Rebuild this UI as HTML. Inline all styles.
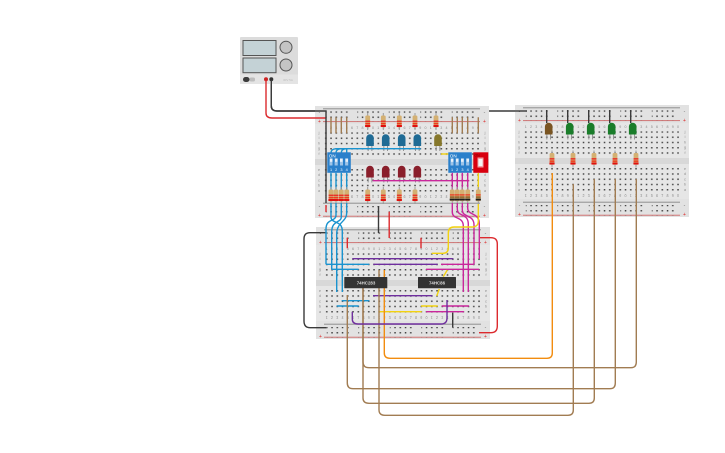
<!DOCTYPE html>
<html><head><meta charset="utf-8"><style>
html,body{margin:0;padding:0;background:#fff}
svg{display:block}
text{font-family:"Liberation Sans",sans-serif}
.w{fill:none;stroke-width:1.4;stroke-linecap:butt}
.bl{stroke:#1a93cf}.mg{stroke:#c9279b}.pu{stroke:#6f2f9e}.ye{stroke:#f2d211}.br{stroke:#a17c52}.or{stroke:#f28c0f}.rd{stroke:#dc2a2e}.bk{stroke:#3a3a3a}
</style></head><body>
<svg width="725" height="453" viewBox="0 0 725 453" xmlns="http://www.w3.org/2000/svg">
<defs>
<pattern id="h" patternUnits="userSpaceOnUse" x="10.8" y="0" width="5.25" height="5.25"><rect x="-.75" y=".0" width="1.5" height="1.5" fill="#444"/><rect x="4.5" y=".0" width="1.5" height="1.5" fill="#444"/></pattern>
<pattern id="hr" patternUnits="userSpaceOnUse" x="10.8" y="0" width="31.5" height="5.25"><g fill="#444"><rect x="-.75" y=".0" width="1.5" height="1.5"/><rect x="4.5" y=".0" width="1.5" height="1.5"/><rect x="9.75" y=".0" width="1.5" height="1.5"/><rect x="15" y=".0" width="1.5" height="1.5"/><rect x="20.25" y=".0" width="1.5" height="1.5"/></g></pattern>
<g id="board">
<rect width="174" height="112" fill="#e2e2e2"/>
<rect y="18" width="174" height="76" fill="#e6e6e6"/>
<rect y="53" width="174" height="6" fill="#d8d8d8"/>
<rect x="8" y="2.3" width="157" height="1" fill="#8f8f8f"/>
<rect x="8" y="15" width="157" height="1.1" fill="#d27f7f"/>
<rect x="8" y="96.7" width="157" height="1" fill="#8f8f8f"/>
<rect x="8" y="109.7" width="157" height="1.1" fill="#d27f7f"/>
<rect x="8.5" y="5.25" width="157" height="10.5" fill="url(#hr)"/>
<rect x="8.5" y="100" width="157" height="10.5" fill="url(#hr)"/>
<rect x="8" y="26.25" width="157" height="26.25" fill="url(#h)"/>
<rect x="8" y="63" width="157" height="26.25" fill="url(#h)"/>
<g font-size="3.6" fill="#8a8a8a" text-anchor="middle">
<text x="10.8 16.05 21.3 26.55 31.8 37.05 42.3 47.55 52.8 58.05 63.3 68.55 73.8 79.05 84.3 89.55 94.8 100.05 105.3 110.55 115.8 121.05 126.3 131.55 136.8 142.05 147.3 152.55 157.8 163.05" y="23">123456789012345678901234567890</text>
<text x="10.8 16.05 21.3 26.55 31.8 37.05 42.3 47.55 52.8 58.05 63.3 68.55 73.8 79.05 84.3 89.55 94.8 100.05 105.3 110.55 115.8 121.05 126.3 131.55 136.8 142.05 147.3 152.55 157.8 163.05" y="92">123456789012345678901234567890</text>
<text x="4" y="28">j</text><text x="4" y="33">i</text><text x="4" y="38.5">h</text><text x="4" y="43.5">g</text><text x="4" y="49">f</text>
<text x="4" y="65">e</text><text x="4" y="70">d</text><text x="4" y="75.5">c</text><text x="4" y="80.5">b</text><text x="4" y="86">a</text>
<text x="170" y="28">j</text><text x="170" y="33">i</text><text x="170" y="38.5">h</text><text x="170" y="43.5">g</text><text x="170" y="49">f</text>
<text x="170" y="65">e</text><text x="170" y="70">d</text><text x="170" y="75.5">c</text><text x="170" y="80.5">b</text><text x="170" y="86">a</text>
</g>
<g font-size="5" text-anchor="middle"><text x="4.5" y="8" fill="#666">-</text><text x="169.5" y="8" fill="#666">-</text><text x="4.5" y="17" fill="#d22">+</text><text x="169.5" y="17" fill="#d22">+</text><text x="4.5" y="102" fill="#666">-</text><text x="169.5" y="102" fill="#666">-</text><text x="4.5" y="111" fill="#d22">+</text><text x="169.5" y="111" fill="#d22">+</text></g>
</g>
<g id="r"><rect x="-.5" y="0" width="1" height="17" fill="#9a9a9a"/><rect x="-2.4" y="2.5" width="4.8" height="11.8" rx="1.4" fill="#d4b072"/><rect x="-2.4" y="7.6" width="4.8" height="1.5" fill="#e8322a"/><rect x="-2.4" y="9.9" width="4.8" height="1.5" fill="#ee3a1e"/><rect x="-2.6" y="12" width="5.2" height="2" fill="#e01010"/></g>
<g id="rk"><rect x="-.5" y="0" width="1" height="17" fill="#9a9a9a"/><rect x="-2.4" y="2.5" width="4.8" height="11.8" rx="1.4" fill="#d4b072"/><rect x="-2.4" y="7.2" width="4.8" height="1.4" fill="#e8452a"/><rect x="-2.4" y="9.4" width="4.8" height="1.4" fill="#8a5a24"/><rect x="-2.6" y="11.6" width="5.2" height="1.9" fill="#1c1c1c"/></g>
<g id="led"><rect x="-2.3" y="11" width=".9" height="6" fill="#8c8c8c"/><rect x="1.4" y="11" width=".9" height="6" fill="#8c8c8c"/><path d="M-3.8 12V4a3.8 3.8 0 0 1 7.6 0v8z" fill="currentColor"/></g>
<g id="dip"><rect width="23.5" height="20.5" fill="#2a80cb"/>
<g fill="#e8f1fa"><rect x="2.4" y="6.2" width="2.8" height="7"/><rect x="7.5" y="6.2" width="2.8" height="7"/><rect x="12.7" y="6.2" width="2.8" height="7"/><rect x="18" y="6.2" width="2.8" height="7"/></g>
<g fill="#9dc4e8"><rect x="2.4" y="9.5" width="2.8" height="3.7"/><rect x="7.5" y="9.5" width="2.8" height="3.7"/><rect x="12.7" y="9.5" width="2.8" height="3.7"/><rect x="18" y="9.5" width="2.8" height="3.7"/></g>
<text x="1.5" y="5" font-size="4.6" fill="#fff">ON</text>
<g font-size="3.8" fill="#fff" text-anchor="middle"><text x="3.8" y="18.5">1</text><text x="8.9" y="18.5">2</text><text x="14.1" y="18.5">3</text><text x="19.4" y="18.5">4</text></g></g>
</defs>

<path class="w bk" d="M271.3 80V106Q271.3 111 277 111H527"/>
<use href="#board" x="315" y="106"/>
<use href="#board" x="316" y="227"/>
<use href="#board" x="515" y="105"/>

<!-- power supply -->
<rect x="240" y="37" width="58" height="47" rx="1" fill="#dcdcdc"/>
<rect x="240" y="74.5" width="58" height="9.5" fill="#e4e4e4"/>
<rect x="243" y="40.5" width="33" height="15" fill="#c4d2d6" stroke="#555" stroke-width="1"/>
<rect x="243" y="58" width="33" height="14.7" fill="#c4d2d6" stroke="#555" stroke-width="1"/>
<circle cx="286" cy="47.3" r="6" fill="#c4c4c4" stroke="#555" stroke-width="1"/>
<circle cx="286" cy="65" r="6" fill="#c4c4c4" stroke="#555" stroke-width="1"/>
<rect x="243" y="77" width="6.5" height="5" rx="2.5" fill="#3c3c3c"/>
<rect x="249.5" y="77.5" width="5.5" height="4" rx="1.5" fill="#bdbdbd"/>
<text x="283" y="81" font-size="3" fill="#bbb">30V 5A</text>
<circle cx="266" cy="79.3" r="2" fill="#c22"/><circle cx="271.3" cy="79.3" r="2" fill="#333"/>
<path class="w rd" d="M266 80V113Q266 118 272 118H326"/>
<path class="w bk" d="M271.3 80V106Q271.3 111 277 111H326V203"/>
<path class="w bk" d="M515 111H527"/>
<path class="w rd" d="M326 205V212"/>

<!-- board 1 -->
<g class="w br"><path d="M331 117.3V133.3M336 117.3V133.3M341.3 117.3V133.3M346.7 117.3V133.3M452.3 117.3V133.3M457.3 117.3V133.3M462.3 117.3V133.3M467.7 117.3V133.3M478.3 117.3V133.3"/></g>
<use href="#r" x="367.7" y="113"/><use href="#r" x="383.3" y="113"/><use href="#r" x="399.3" y="113"/><use href="#r" x="415" y="113"/><use href="#r" x="436" y="113"/>
<g color="#1f6b95"><use href="#led" x="370" y="134"/><use href="#led" x="385.7" y="134"/><use href="#led" x="401.7" y="134"/><use href="#led" x="417.3" y="134"/></g>
<g color="#86772b"><use href="#led" x="438" y="134"/></g>
<g color="#8a1f2b"><use href="#led" x="370" y="165.5"/><use href="#led" x="385.7" y="165.5"/><use href="#led" x="401.7" y="165.5"/><use href="#led" x="417.3" y="165.5"/></g>
<path class="w bl" d="M331 153Q331 149 336 148.7H420.7M336 153Q336 149 341 148.7M341.3 153Q341.3 149 346 148.7M346.7 153V148.7"/>
<path class="w ye" d="M441 154H449"/>
<use href="#dip" x="327.3" y="152.3"/>
<use href="#dip" x="448.3" y="152.3"/>
<rect x="473.3" y="152.3" width="15" height="20.5" fill="#d8000f"/>
<rect x="477.5" y="157.5" width="6" height="10" fill="#f2a0a4"/>
<rect x="478.5" y="159" width="4" height="7" fill="#f4f4f4"/>
<text x="474.5" y="156.5" font-size="3.4" fill="#700">ON</text>
<path class="w mg" d="M372.7 180.7H469.3"/>
<path class="w mg" d="M452.3 172.8V190M457.3 172.8V190M462.3 172.8V190M467.7 172.8V190"/>
<path class="w bl" d="M331 172.8V190M336 172.8V190M341.3 172.8V190M346.7 172.8V190"/>
<path class="w ye" d="M478.3 173V190"/>
<use href="#r" x="331" y="187"/><use href="#r" x="336" y="187"/><use href="#r" x="341.3" y="187"/><use href="#r" x="346.7" y="187"/>
<use href="#r" x="367.7" y="187"/><use href="#r" x="383.3" y="187"/><use href="#r" x="399.3" y="187"/><use href="#r" x="415" y="187"/>
<use href="#rk" x="452.3" y="187"/><use href="#rk" x="457.3" y="187"/><use href="#rk" x="462.3" y="187"/><use href="#rk" x="467.7" y="187"/><use href="#rk" x="478.3" y="187"/>

<!-- board 2 wires -->
<path class="w pu" d="M352.3 258.7H453.3M373.3 264.3H437.7M373 295.7H432.3"/>
<path class="w bl" d="M326 264.3H369.3M331.7 269.3H358.7M341.7 300.7H369.3M336.7 306H358.7"/>
<path class="w mg" d="M441 264.3H474M426 269.3H479.3M441.7 306H469M426 311.7H464"/>
<path class="w ye" d="M421 306H437.7M379 311.7H421.7M447.3 270L443.3 276.7M439.3 289L436.7 296"/>
<path class="w rd" d="M347.3 237.7V248.3M421 237.7V248.3"/>
<path class="w bk" d="M452.7 312.7V327.7"/>
<path class="w br" d="M347.3 295V383Q347.3 388.7 353 388.7H610Q615.3 388.7 615.3 383V179"/>
<path class="w br" d="M363 288V362Q363 367.7 369 367.7H631Q636.3 367.7 636.3 362V179"/>
<path class="w br" d="M363 288V398Q363 403.3 369 403.3H589Q594.3 403.3 594.3 398V179"/>
<path class="w br" d="M379 270V410Q379 415.3 385 415.3H568Q573.3 415.3 573.3 410V184"/>
<path class="w or" d="M384.3 270V353Q384.3 358.3 390 358.3H547Q552.3 358.3 552.3 353V173"/>
<path class="w bl" d="M336.7 272V292M342.3 272V292"/>
<path class="w mg" d="M463.3 270V292M468.3 270V292"/>
<rect x="344.3" y="277" width="43" height="11.3" rx=".6" fill="#333"/>
<rect x="418" y="277" width="38" height="11.3" rx=".6" fill="#333"/>
<text x="366" y="284.5" font-size="4.4" font-weight="bold" fill="#ddd" text-anchor="middle">74HC283</text>
<text x="437" y="284.5" font-size="4.4" font-weight="bold" fill="#ddd" text-anchor="middle">74HC86</text>
<path class="w pu" d="M352.3 311.7V319Q352.3 324 358 324H441Q447 324 447 318V300"/>

<!-- inter-board wires -->
<path class="w bk" d="M326.7 232.7H310Q304 232.7 304 239V321Q304 327.7 310 327.7H326.7"/>
<path class="w rd" d="M479 237.7H491Q497.3 237.7 497.3 244V326Q497.3 332.7 491 332.7H479"/>
<path class="w bk" d="M378.5 206V233"/>
<path class="w rd" d="M389.2 211.7V238"/>
<path class="w bl" d="M331 203V217C331 224 342.3 220 342.3 231V277"/>
<path class="w bl" d="M336 203V215C336 222 326 218 326 229V264.3"/>
<path class="w bl" d="M341.3 203V217C341.3 223 331.7 220 331.7 232V269.3"/>
<path class="w bl" d="M346.7 203V213C346.7 222 336.7 222 336.7 234V277"/>
<path class="w mg" d="M452.3 203V212C452.3 220 463.3 216 463.3 226V270"/>
<path class="w mg" d="M457.3 203V209C457.3 217 468.3 213 468.3 224V270"/>
<path class="w mg" d="M462.3 203V210C462.3 218 474 214 474 225V264.3"/>
<path class="w mg" d="M467.7 203V208C467.7 216 479.3 212 479.3 224V259"/>
<path class="w ye" d="M478.3 204V221Q478.3 227 472 227H454Q448.3 227 448.3 233V248Q448.3 253.3 443 253.3H431.7"/>

<!-- board 3 -->
<g class="w bk"><path d="M546.7 110V123M567.7 110V123M588.7 110V123M609.7 110V123M630.7 110V123"/></g>
<g color="#7a5522"><use href="#led" x="548.7" y="122.5"/></g>
<g color="#1a7d2a"><use href="#led" x="569.7" y="122.5"/><use href="#led" x="590.7" y="122.5"/><use href="#led" x="611.7" y="122.5"/><use href="#led" x="632.7" y="122.5"/></g>
<use href="#r" x="552" y="150.5"/><use href="#r" x="573" y="150.5"/><use href="#r" x="594" y="150.5"/><use href="#r" x="615" y="150.5"/><use href="#r" x="636" y="150.5"/>
</svg>
</body></html>
